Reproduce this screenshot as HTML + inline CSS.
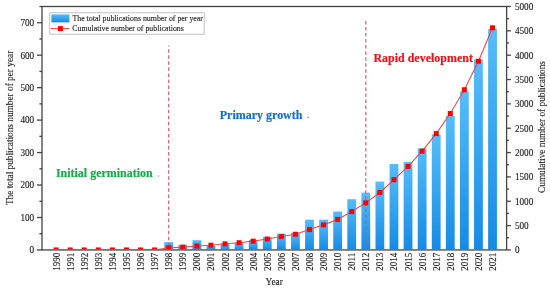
<!DOCTYPE html>
<html><head><meta charset="utf-8"><style>
html,body{margin:0;padding:0;background:#fff;}
body{width:550px;height:289px;overflow:hidden;}
svg{display:block;}
text{font-family:"Liberation Serif","Times New Roman",serif;}
</style></head><body>
<svg width="550" height="289" viewBox="0 0 550 289">
<defs>
<linearGradient id="bg" x1="0" y1="0" x2="0" y2="1">
<stop offset="0" stop-color="#55bdf9"/>
<stop offset="1" stop-color="#168ae4"/>
</linearGradient>
<clipPath id="pc"><rect x="42.0" y="6.5" width="464.6" height="242.85"/></clipPath>
</defs>
<rect width="550" height="289" fill="#fff"/>
<g clip-path="url(#pc)">
<rect x="136.15" y="249.14" width="8.8" height="0.81" fill="url(#bg)"/>
<rect x="150.23" y="249.56" width="8.8" height="0.39" fill="url(#bg)"/>
<rect x="164.31" y="242.14" width="8.8" height="7.81" fill="url(#bg)"/>
<rect x="178.39" y="244.74" width="8.8" height="5.21" fill="url(#bg)"/>
<rect x="192.47" y="240.19" width="8.8" height="9.76" fill="url(#bg)"/>
<rect x="206.55" y="245.56" width="8.8" height="4.39" fill="url(#bg)"/>
<rect x="220.62" y="243.44" width="8.8" height="6.51" fill="url(#bg)"/>
<rect x="234.70" y="242.79" width="8.8" height="7.16" fill="url(#bg)"/>
<rect x="248.78" y="239.86" width="8.8" height="10.09" fill="url(#bg)"/>
<rect x="262.86" y="236.93" width="8.8" height="13.02" fill="url(#bg)"/>
<rect x="276.94" y="233.67" width="8.8" height="16.28" fill="url(#bg)"/>
<rect x="291.02" y="232.70" width="8.8" height="17.25" fill="url(#bg)"/>
<rect x="305.10" y="219.68" width="8.8" height="30.27" fill="url(#bg)"/>
<rect x="319.18" y="219.68" width="8.8" height="30.27" fill="url(#bg)"/>
<rect x="333.25" y="211.54" width="8.8" height="38.41" fill="url(#bg)"/>
<rect x="347.33" y="199.17" width="8.8" height="50.78" fill="url(#bg)"/>
<rect x="361.41" y="192.66" width="8.8" height="57.29" fill="url(#bg)"/>
<rect x="375.49" y="181.59" width="8.8" height="68.36" fill="url(#bg)"/>
<rect x="389.57" y="164.02" width="8.8" height="85.93" fill="url(#bg)"/>
<rect x="403.65" y="162.06" width="8.8" height="87.88" fill="url(#bg)"/>
<rect x="417.73" y="148.39" width="8.8" height="101.56" fill="url(#bg)"/>
<rect x="431.81" y="134.40" width="8.8" height="115.55" fill="url(#bg)"/>
<rect x="445.88" y="115.84" width="8.8" height="134.11" fill="url(#bg)"/>
<rect x="459.96" y="91.43" width="8.8" height="158.52" fill="url(#bg)"/>
<rect x="474.04" y="59.53" width="8.8" height="190.42" fill="url(#bg)"/>
<rect x="488.12" y="28.94" width="8.8" height="221.01" fill="url(#bg)"/>
<line x1="168.71" y1="49.2" x2="168.71" y2="249.95" stroke="#d65468" stroke-width="1.15" stroke-dasharray="3.5 2.55"/>
<line x1="365.81" y1="20.9" x2="365.81" y2="249.95" stroke="#d65468" stroke-width="1.15" stroke-dasharray="3.5 2.55"/>
<polyline points="56.08,249.95 70.16,249.95 84.24,249.95 98.32,249.95 112.39,249.95 126.47,249.95 140.55,249.95 154.63,249.95 168.71,247.86 182.79,247.17 196.87,245.96 210.95,245.18 225.02,243.82 239.10,242.70 253.18,241.14 267.26,239.04 281.34,236.56 295.42,234.27 309.50,229.60 323.58,224.87 337.65,219.42 351.73,211.58 365.81,202.87 379.89,192.45 393.97,179.74 408.05,166.45 422.13,151.11 436.21,133.58 450.28,113.52 464.36,89.76 478.44,61.23 492.52,27.83" fill="none" stroke="#ef4b4b" stroke-width="1.1"/>
<rect x="53.58" y="247.45" width="5.0" height="5.0" fill="#ff0000"/>
<rect x="67.66" y="247.45" width="5.0" height="5.0" fill="#ff0000"/>
<rect x="81.74" y="247.45" width="5.0" height="5.0" fill="#ff0000"/>
<rect x="95.82" y="247.45" width="5.0" height="5.0" fill="#ff0000"/>
<rect x="109.89" y="247.45" width="5.0" height="5.0" fill="#ff0000"/>
<rect x="123.97" y="247.45" width="5.0" height="5.0" fill="#ff0000"/>
<rect x="138.05" y="247.45" width="5.0" height="5.0" fill="#ff0000"/>
<rect x="152.13" y="247.45" width="5.0" height="5.0" fill="#ff0000"/>
<rect x="166.21" y="245.36" width="5.0" height="5.0" fill="#ff0000"/>
<rect x="180.29" y="244.67" width="5.0" height="5.0" fill="#ff0000"/>
<rect x="194.37" y="243.46" width="5.0" height="5.0" fill="#ff0000"/>
<rect x="208.45" y="242.68" width="5.0" height="5.0" fill="#ff0000"/>
<rect x="222.52" y="241.32" width="5.0" height="5.0" fill="#ff0000"/>
<rect x="236.60" y="240.20" width="5.0" height="5.0" fill="#ff0000"/>
<rect x="250.68" y="238.64" width="5.0" height="5.0" fill="#ff0000"/>
<rect x="264.76" y="236.54" width="5.0" height="5.0" fill="#ff0000"/>
<rect x="278.84" y="234.06" width="5.0" height="5.0" fill="#ff0000"/>
<rect x="292.92" y="231.77" width="5.0" height="5.0" fill="#ff0000"/>
<rect x="307.00" y="227.10" width="5.0" height="5.0" fill="#ff0000"/>
<rect x="321.08" y="222.37" width="5.0" height="5.0" fill="#ff0000"/>
<rect x="335.15" y="216.92" width="5.0" height="5.0" fill="#ff0000"/>
<rect x="349.23" y="209.08" width="5.0" height="5.0" fill="#ff0000"/>
<rect x="363.31" y="200.37" width="5.0" height="5.0" fill="#ff0000"/>
<rect x="377.39" y="189.95" width="5.0" height="5.0" fill="#ff0000"/>
<rect x="391.47" y="177.24" width="5.0" height="5.0" fill="#ff0000"/>
<rect x="405.55" y="163.95" width="5.0" height="5.0" fill="#ff0000"/>
<rect x="419.63" y="148.61" width="5.0" height="5.0" fill="#ff0000"/>
<rect x="433.71" y="131.08" width="5.0" height="5.0" fill="#ff0000"/>
<rect x="447.78" y="111.02" width="5.0" height="5.0" fill="#ff0000"/>
<rect x="461.86" y="87.26" width="5.0" height="5.0" fill="#ff0000"/>
<rect x="475.94" y="58.73" width="5.0" height="5.0" fill="#ff0000"/>
<rect x="490.02" y="25.33" width="5.0" height="5.0" fill="#ff0000"/>
</g>
<circle cx="168.71" cy="45.9" r="0.6" fill="#888"/>
<g stroke="#444444" stroke-width="1.3" fill="none">
<rect x="42.0" y="6.5" width="464.6" height="243.45"/>
<line x1="37.00" y1="249.95" x2="42.0" y2="249.95"/>
<line x1="39.40" y1="233.72" x2="42.0" y2="233.72"/>
<line x1="37.00" y1="217.49" x2="42.0" y2="217.49"/>
<line x1="39.40" y1="201.26" x2="42.0" y2="201.26"/>
<line x1="37.00" y1="185.03" x2="42.0" y2="185.03"/>
<line x1="39.40" y1="168.80" x2="42.0" y2="168.80"/>
<line x1="37.00" y1="152.57" x2="42.0" y2="152.57"/>
<line x1="39.40" y1="136.34" x2="42.0" y2="136.34"/>
<line x1="37.00" y1="120.11" x2="42.0" y2="120.11"/>
<line x1="39.40" y1="103.88" x2="42.0" y2="103.88"/>
<line x1="37.00" y1="87.65" x2="42.0" y2="87.65"/>
<line x1="39.40" y1="71.42" x2="42.0" y2="71.42"/>
<line x1="37.00" y1="55.19" x2="42.0" y2="55.19"/>
<line x1="39.40" y1="38.96" x2="42.0" y2="38.96"/>
<line x1="37.00" y1="22.73" x2="42.0" y2="22.73"/>
<line x1="39.40" y1="6.50" x2="42.0" y2="6.50"/>
<line x1="506.6" y1="249.95" x2="510.90" y2="249.95"/>
<line x1="506.6" y1="237.78" x2="509.10" y2="237.78"/>
<line x1="506.6" y1="225.60" x2="510.90" y2="225.60"/>
<line x1="506.6" y1="213.43" x2="509.10" y2="213.43"/>
<line x1="506.6" y1="201.26" x2="510.90" y2="201.26"/>
<line x1="506.6" y1="189.09" x2="509.10" y2="189.09"/>
<line x1="506.6" y1="176.91" x2="510.90" y2="176.91"/>
<line x1="506.6" y1="164.74" x2="509.10" y2="164.74"/>
<line x1="506.6" y1="152.57" x2="510.90" y2="152.57"/>
<line x1="506.6" y1="140.40" x2="509.10" y2="140.40"/>
<line x1="506.6" y1="128.22" x2="510.90" y2="128.22"/>
<line x1="506.6" y1="116.05" x2="509.10" y2="116.05"/>
<line x1="506.6" y1="103.88" x2="510.90" y2="103.88"/>
<line x1="506.6" y1="91.71" x2="509.10" y2="91.71"/>
<line x1="506.6" y1="79.53" x2="510.90" y2="79.53"/>
<line x1="506.6" y1="67.36" x2="509.10" y2="67.36"/>
<line x1="506.6" y1="55.19" x2="510.90" y2="55.19"/>
<line x1="506.6" y1="43.02" x2="509.10" y2="43.02"/>
<line x1="506.6" y1="30.84" x2="510.90" y2="30.84"/>
<line x1="506.6" y1="18.67" x2="509.10" y2="18.67"/>
<line x1="506.6" y1="6.50" x2="510.90" y2="6.50"/>
</g>
<g font-size="9.2" fill="#1e1e1e" stroke="#1e1e1e" stroke-width="0.12">
<text transform="translate(34.20,253.30) scale(1,1.09)" text-anchor="end">0</text>
<text transform="translate(34.20,220.84) scale(1,1.09)" text-anchor="end">100</text>
<text transform="translate(34.20,188.38) scale(1,1.09)" text-anchor="end">200</text>
<text transform="translate(34.20,155.92) scale(1,1.09)" text-anchor="end">300</text>
<text transform="translate(34.20,123.46) scale(1,1.09)" text-anchor="end">400</text>
<text transform="translate(34.20,91.00) scale(1,1.09)" text-anchor="end">500</text>
<text transform="translate(34.20,58.54) scale(1,1.09)" text-anchor="end">600</text>
<text transform="translate(34.20,26.08) scale(1,1.09)" text-anchor="end">700</text>
<text transform="translate(514.90,253.30) scale(1,1.09)">0</text>
<text transform="translate(514.90,228.95) scale(1,1.09)">500</text>
<text transform="translate(514.90,204.61) scale(1,1.09)">1000</text>
<text transform="translate(514.90,180.26) scale(1,1.09)">1500</text>
<text transform="translate(514.90,155.92) scale(1,1.09)">2000</text>
<text transform="translate(514.90,131.57) scale(1,1.09)">2500</text>
<text transform="translate(514.90,107.23) scale(1,1.09)">3000</text>
<text transform="translate(514.90,82.88) scale(1,1.09)">3500</text>
<text transform="translate(514.90,58.54) scale(1,1.09)">4000</text>
<text transform="translate(514.90,34.20) scale(1,1.09)">4500</text>
<text transform="translate(514.90,9.85) scale(1,1.09)">5000</text>
<text transform="translate(59.58,252.9) rotate(-90) scale(0.97,1.13)" text-anchor="end">1990</text>
<text transform="translate(73.66,252.9) rotate(-90) scale(0.97,1.13)" text-anchor="end">1991</text>
<text transform="translate(87.74,252.9) rotate(-90) scale(0.97,1.13)" text-anchor="end">1992</text>
<text transform="translate(101.82,252.9) rotate(-90) scale(0.97,1.13)" text-anchor="end">1993</text>
<text transform="translate(115.89,252.9) rotate(-90) scale(0.97,1.13)" text-anchor="end">1994</text>
<text transform="translate(129.97,252.9) rotate(-90) scale(0.97,1.13)" text-anchor="end">1995</text>
<text transform="translate(144.05,252.9) rotate(-90) scale(0.97,1.13)" text-anchor="end">1996</text>
<text transform="translate(158.13,252.9) rotate(-90) scale(0.97,1.13)" text-anchor="end">1997</text>
<text transform="translate(172.21,252.9) rotate(-90) scale(0.97,1.13)" text-anchor="end">1998</text>
<text transform="translate(186.29,252.9) rotate(-90) scale(0.97,1.13)" text-anchor="end">1999</text>
<text transform="translate(200.37,252.9) rotate(-90) scale(0.97,1.13)" text-anchor="end">2000</text>
<text transform="translate(214.45,252.9) rotate(-90) scale(0.97,1.13)" text-anchor="end">2001</text>
<text transform="translate(228.52,252.9) rotate(-90) scale(0.97,1.13)" text-anchor="end">2002</text>
<text transform="translate(242.60,252.9) rotate(-90) scale(0.97,1.13)" text-anchor="end">2003</text>
<text transform="translate(256.68,252.9) rotate(-90) scale(0.97,1.13)" text-anchor="end">2004</text>
<text transform="translate(270.76,252.9) rotate(-90) scale(0.97,1.13)" text-anchor="end">2005</text>
<text transform="translate(284.84,252.9) rotate(-90) scale(0.97,1.13)" text-anchor="end">2006</text>
<text transform="translate(298.92,252.9) rotate(-90) scale(0.97,1.13)" text-anchor="end">2007</text>
<text transform="translate(313.00,252.9) rotate(-90) scale(0.97,1.13)" text-anchor="end">2008</text>
<text transform="translate(327.08,252.9) rotate(-90) scale(0.97,1.13)" text-anchor="end">2009</text>
<text transform="translate(341.15,252.9) rotate(-90) scale(0.97,1.13)" text-anchor="end">2010</text>
<text transform="translate(355.23,252.9) rotate(-90) scale(0.97,1.13)" text-anchor="end">2011</text>
<text transform="translate(369.31,252.9) rotate(-90) scale(0.97,1.13)" text-anchor="end">2012</text>
<text transform="translate(383.39,252.9) rotate(-90) scale(0.97,1.13)" text-anchor="end">2013</text>
<text transform="translate(397.47,252.9) rotate(-90) scale(0.97,1.13)" text-anchor="end">2014</text>
<text transform="translate(411.55,252.9) rotate(-90) scale(0.97,1.13)" text-anchor="end">2015</text>
<text transform="translate(425.63,252.9) rotate(-90) scale(0.97,1.13)" text-anchor="end">2016</text>
<text transform="translate(439.71,252.9) rotate(-90) scale(0.97,1.13)" text-anchor="end">2017</text>
<text transform="translate(453.78,252.9) rotate(-90) scale(0.97,1.13)" text-anchor="end">2018</text>
<text transform="translate(467.86,252.9) rotate(-90) scale(0.97,1.13)" text-anchor="end">2019</text>
<text transform="translate(481.94,252.9) rotate(-90) scale(0.97,1.13)" text-anchor="end">2020</text>
<text transform="translate(496.02,252.9) rotate(-90) scale(0.97,1.13)" text-anchor="end">2021</text>
</g>
<g fill="#1e1e1e" stroke="#1e1e1e" stroke-width="0.12">
<text font-size="9.3" transform="translate(13.3,127.9) rotate(-90)" text-anchor="middle">The total publications number of per year</text>
<text font-size="9.3" transform="translate(544.6,127) rotate(-90)" text-anchor="middle">Cumulative number of publications</text>
<text font-size="9.4" transform="translate(274.2,284.7) scale(1,1.09)" text-anchor="middle">Year</text>
</g>
<rect x="49.8" y="12.8" width="154.4" height="21.4" fill="#fff" stroke="#b4b4b4" stroke-width="0.8"/>
<rect x="51.4" y="14.4" width="18" height="8" fill="url(#bg)"/>
<line x1="50.8" y1="28.6" x2="69" y2="28.6" stroke="#ef4b4b" stroke-width="1.1"/>
<rect x="57.9" y="26.1" width="5" height="5" fill="#ff0000"/>
<g font-size="8" fill="#1e1e1e" stroke="#1e1e1e" stroke-width="0.12">
<text transform="translate(72.4,21.3) scale(0.984,1.12)">The total publications number of per year</text>
<text transform="translate(72.3,31.1) scale(0.984,1.12)">Cumulative number of publications</text>
</g>
<g font-size="12" font-weight="bold">
<text transform="translate(55.9,176.9) scale(1,1.07)" fill="#16ae4a" stroke="#16ae4a" stroke-width="0.2">Initial germination</text>
<text transform="translate(219.8,119) scale(1,1.07)" fill="#1470cc" stroke="#1470cc" stroke-width="0.2">Primary growth</text>
<text transform="translate(373.4,61.8) scale(1,1.07)" fill="#f0121c" stroke="#f0121c" stroke-width="0.2">Rapid development</text>
</g>
<circle cx="158.5" cy="176" r="0.8" fill="#999"/>
<circle cx="308.2" cy="117.4" r="0.8" fill="#999"/>
</svg>
</body></html>
